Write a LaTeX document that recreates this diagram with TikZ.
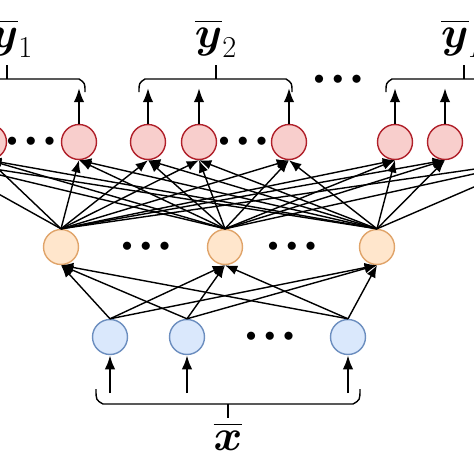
\documentclass[tikz,border=0pt]{standalone}
\usepackage{amsmath}
\usepackage{amssymb}
\usepackage{bm}
\usetikzlibrary{arrows.meta}

\definecolor{inFill}{HTML}{DAE8FC}
\definecolor{inDraw}{HTML}{6C8EBF}
\definecolor{hidFill}{HTML}{FFE6CC}
\definecolor{hidDraw}{HTML}{E0A46A}
\definecolor{outFill}{HTML}{F8CECC}
\definecolor{outDraw}{HTML}{B0202A}

\tikzset{
  neuron/.style={circle,draw,line width=0.8pt,minimum size=0.7cm,inner sep=0pt},
  bigarrow/.style={-{Latex[length=8pt,width=6pt]},line width=1.3pt},
  brace/.style={line width=0.8pt},
  dots/.style={inner sep=0pt,font=\large},
  lbl/.style={inner sep=0pt,font=\fontsize{25}{28}\selectfont}
}

\begin{document}
\begin{tikzpicture}[x=0.02cm,y=-0.02cm]

      \useasboundingbox (0,0) rectangle (474,474);
      \clip (0,0) rectangle (474,474);

      \begin{scope}[every node/.style={neuron,draw=inDraw,fill=inFill}]
        \node (x1) at (110,337) {};
        \node (x2) at (187,337) {};
        \node (x3) at (348,337) {};
      \end{scope}

      \begin{scope}[every node/.style={neuron,draw=hidDraw,fill=hidFill}]
        \node (h1) at (61,247)  {};
        \node (h2) at (225,247) {};
        \node (h3) at (377,247) {};
      \end{scope}

      \begin{scope}[every node/.style={neuron,draw=outDraw,fill=outFill}]
        \node (y1) at (-62,142) {};
        \node (y2) at (-11,142) {};
        \node (y3) at (79,142)  {};
        \node (y4) at (148,142) {};
        \node (y5) at (199,142) {};
        \node (y6) at (289,142) {};
        \node (y7) at (395,142) {};
        \node (y8) at (445,142) {};
        \node (y9) at (536,142) {};
      \end{scope}

      \begin{scope}[every node/.style={dots}]
        \node (d1) at (270,337) {$\bullet\,\bullet\,\bullet$};
        \node (d2) at (146,247) {$\bullet\,\bullet\,\bullet$};
        \node (d3) at (292,247) {$\bullet\,\bullet\,\bullet$};
        \node (d4) at (31,142)  {$\bullet\,\bullet\,\bullet$};
        \node (d5) at (243,142) {$\bullet\,\bullet\,\bullet$};
        \node (d6) at (338,80)  {$\bullet\,\bullet\,\bullet$};
      \end{scope}

      \begin{scope}[every edge/.style={draw,-{Latex[length=7pt,width=5.5pt]},line width=0.8pt}]
        \foreach \a in {x1,x2,x3}
          \foreach \b in {h1,h2,h3}
            \path (\a.north) edge (\b.south);
        \foreach \a in {h1,h2,h3}
          \foreach \b in {y1,y2,y3,y4,y5,y6,y7,y8,y9}
            \path (\a.north) edge (\b.south);
      \end{scope}

      % inputs and outputs
      \foreach \i/\xx in {1/110,2/187,3/348} {
        \coordinate (xin\i) at (\xx,393);
        \draw[bigarrow] (xin\i) -- (x\i.south);
      }
      \foreach \i/\xx in {1/-62,2/-11,3/79,4/148,5/199,6/289,7/395,8/445,9/536} {
        \coordinate (yout\i) at (\xx,88);
        \draw[bigarrow] (y\i.north) -- (yout\i);
      }

      % braces
      \draw[brace] (96,389) .. controls (96,400) .. (103,404) -- (353,404)
        .. controls (360,400) .. (360,389);
      \draw[brace] (228,404) -- (228,418);
      \foreach \l/\r/\m in {-71/85/7,139/292/216,386/542/464} {
        \draw[brace] (\l,92) .. controls (\l,83) .. (\l+6,79) -- (\r-6,79)
          .. controls (\r,83) .. (\r,92);
        \draw[brace] (\m,79) -- (\m,65);
      }

      \node[lbl] (xlbl)  at (228,436) {$\overline{\bm{x}}$};
      \node[lbl] (ylbl1) at (12,38)   {$\overline{\bm{y}}_1$};
      \node[lbl] (ylbl2) at (216,38)  {$\overline{\bm{y}}_2$};
      \node[lbl] (ylblK) at (469,38)  {$\overline{\bm{y}}_K$};

    \end{tikzpicture}
\end{document}
